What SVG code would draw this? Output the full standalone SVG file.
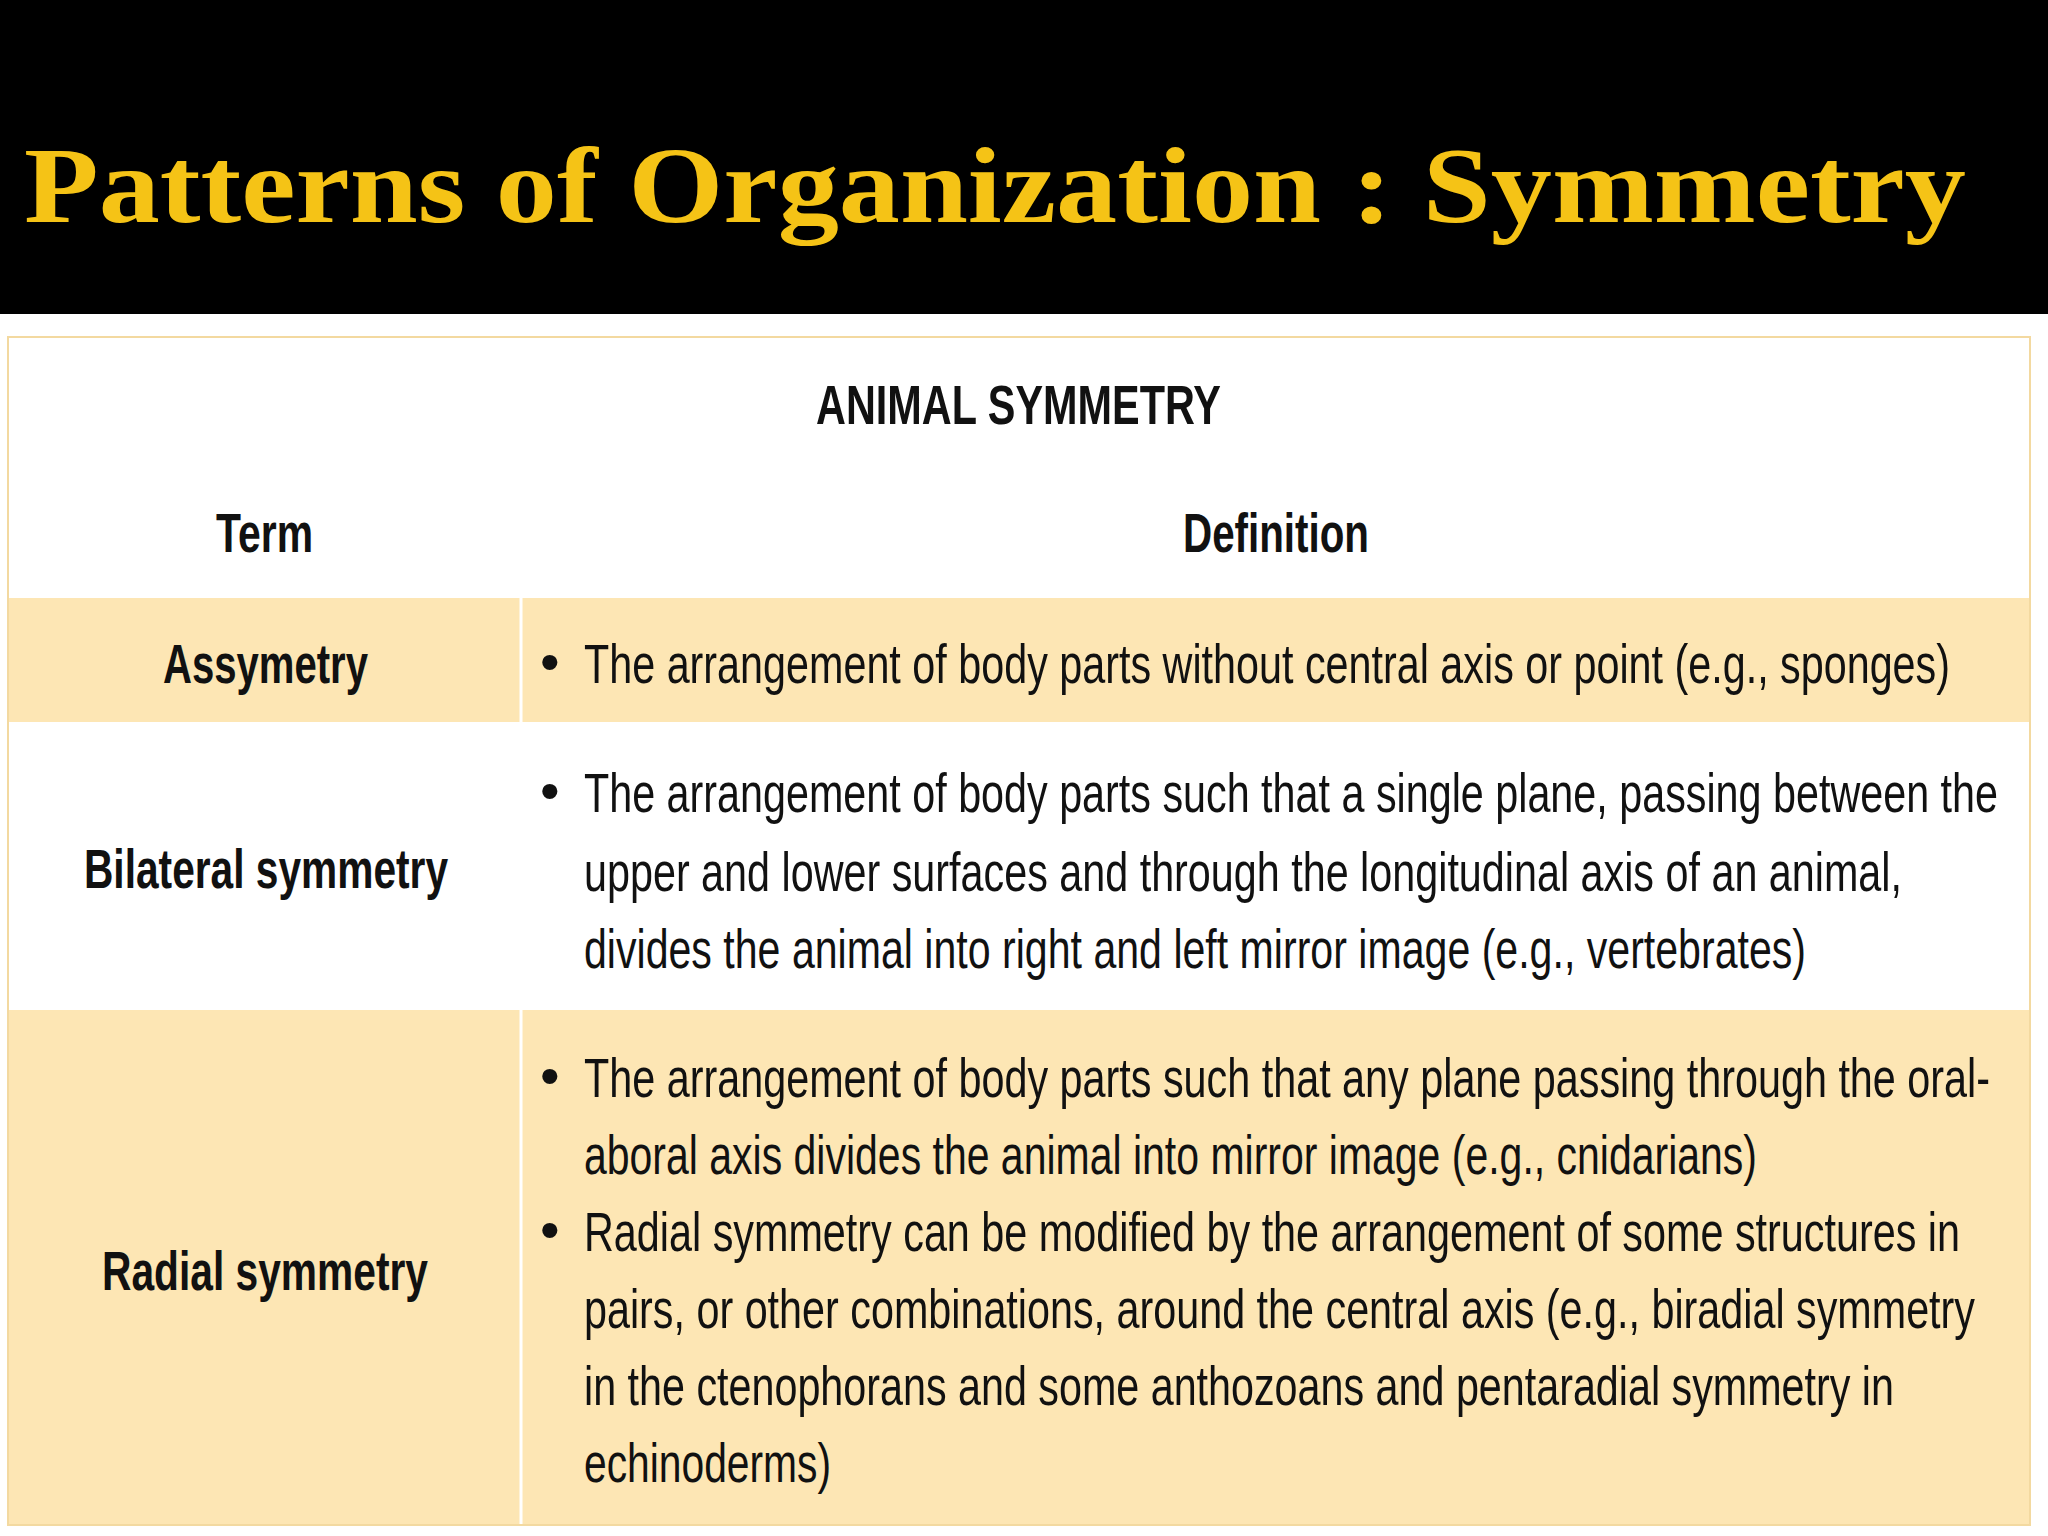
<svg xmlns="http://www.w3.org/2000/svg" width="2048" height="1536" viewBox="0 0 2048 1536">
<style>
.b{font-family:"Liberation Sans",Arial,sans-serif;font-size:56px;fill:#111}
.h{font-family:"Liberation Sans",Arial,sans-serif;font-size:56px;font-weight:bold;fill:#111}
</style>
<rect width="2048" height="1536" fill="#fff"/>
<rect width="2048" height="314" fill="#000"/>
<text x="24" y="222" font-family="'Liberation Serif','DejaVu Serif',serif" font-weight="bold" font-size="108" fill="#f5c316" textLength="1942" lengthAdjust="spacingAndGlyphs">Patterns of Organization : Symmetry</text>
<g id="table">
<rect x="8" y="337" width="2022" height="1188" fill="#fff" stroke="#f3d9a0" stroke-width="2"/>
<rect x="9" y="598" width="2020" height="124" fill="#fde6b4"/>
<rect x="9" y="1010" width="2020" height="514" fill="#fde6b4"/>
<line x1="521" y1="598" x2="521" y2="1524" stroke="#fff" stroke-width="3"/>
<text class="h" x="816" y="424" textLength="405" lengthAdjust="spacingAndGlyphs">ANIMAL SYMMETRY</text>
<text class="h" x="216" y="552" textLength="97" lengthAdjust="spacingAndGlyphs">Term</text>
<text class="h" x="1183" y="552" textLength="186" lengthAdjust="spacingAndGlyphs">Definition</text>
</g>
<g id="row1">
<text class="h" x="163" y="683" textLength="205" lengthAdjust="spacingAndGlyphs">Assymetry</text>
<text class="b" x="540" y="681">•</text>
<text class="b" x="584" y="683" textLength="1366" lengthAdjust="spacingAndGlyphs">The arrangement of body parts without central axis or point (e.g., sponges)</text>
</g>
<g id="row2">
<text class="h" x="84" y="888" textLength="364" lengthAdjust="spacingAndGlyphs">Bilateral symmetry</text>
<text class="b" x="540" y="810">•</text>
<text class="b" x="584" y="812" textLength="1414" lengthAdjust="spacingAndGlyphs">The arrangement of body parts such that a single plane, passing between the</text>
<text class="b" x="584" y="891" textLength="1318" lengthAdjust="spacingAndGlyphs">upper and lower surfaces and through the longitudinal axis of an animal,</text>
<text class="b" x="584" y="968" textLength="1222" lengthAdjust="spacingAndGlyphs">divides the animal into right and left mirror image (e.g., vertebrates)</text>
</g>
<g id="row3">
<text class="h" x="102" y="1290" textLength="326" lengthAdjust="spacingAndGlyphs">Radial symmetry</text>
<text class="b" x="540" y="1095">•</text>
<text class="b" x="584" y="1097" textLength="1406" lengthAdjust="spacingAndGlyphs">The arrangement of body parts such that any plane passing through the oral-</text>
<text class="b" x="584" y="1174" textLength="1173" lengthAdjust="spacingAndGlyphs">aboral axis divides the animal into mirror image (e.g., cnidarians)</text>
<text class="b" x="540" y="1249">•</text>
<text class="b" x="584" y="1251" textLength="1376" lengthAdjust="spacingAndGlyphs">Radial symmetry can be modified by the arrangement of some structures in</text>
<text class="b" x="584" y="1328" textLength="1391" lengthAdjust="spacingAndGlyphs">pairs, or other combinations, around the central axis (e.g., biradial symmetry</text>
<text class="b" x="584" y="1405" textLength="1310" lengthAdjust="spacingAndGlyphs">in the ctenophorans and some anthozoans and pentaradial symmetry in</text>
<text class="b" x="584" y="1482" textLength="247" lengthAdjust="spacingAndGlyphs">echinoderms)</text>
</g>
</svg>
